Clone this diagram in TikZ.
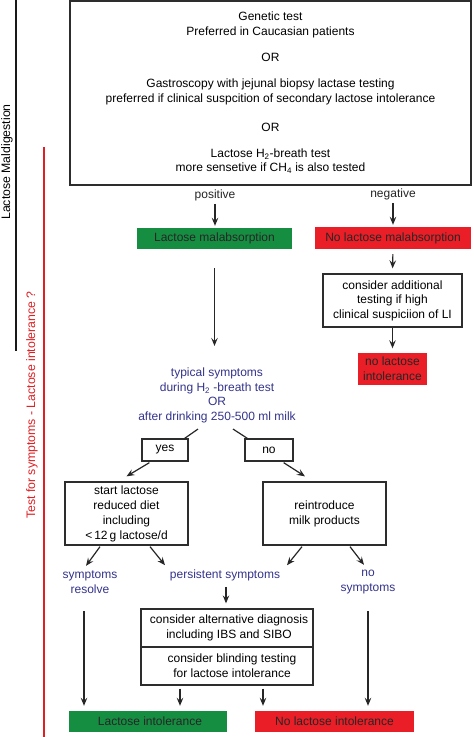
\documentclass[tikz,border=0pt]{standalone}
\usepackage{fontspec}
\setmainfont{Liberation Sans}
\usetikzlibrary{arrows.meta,calc}
\definecolor{boxgreen}{RGB}{22,142,66}
\definecolor{boxred}{RGB}{234,30,38}
\definecolor{linered}{RGB}{222,32,36}
\definecolor{symblue}{RGB}{52,52,140}
\definecolor{frame}{RGB}{45,45,45}
\tikzset{
  every node/.style={font=\fontsize{12}{15}\selectfont, inner sep=0pt, align=center},
  frbox/.style={draw=frame, line width=1.3pt, fill=white},
  greenbox/.style={fill=boxgreen, text=black!85},
  redbox/.style={fill=boxred, text=black!85},
  bluetxt/.style={text=symblue, inner sep=3pt},
  lbl/.style={text=black!85, inner sep=3pt},
  arr/.style={draw=black!85, line width=1.2pt, -{Stealth[length=8pt,width=6.5pt,inset=3pt]}},
  plain/.style={draw=black!85, line width=1.2pt},
}
\begin{document}
\begin{tikzpicture}[x=1pt,y=-1pt]
\useasboundingbox (0,0) rectangle (474,737);
\fill[white] (0,0) rectangle (474,737);

% side markers
\draw[line width=2pt, black!90] (16,0) -- (16,351);
\node[rotate=90, font=\fontsize{12.3}{15}\selectfont] (maldig) at (7,162) {Lactose Maldigestion};
\draw[line width=1.6pt, linered] (44,147) -- (44,737);
\node[rotate=90, text=linered, font=\fontsize{12.3}{15}\selectfont] (testsym) at (32,405) {Test for symptoms - Lactose intolerance ?};

% top box
\node[frbox, line width=1.5pt, minimum width=401pt, minimum height=184pt] (top) at (270.5,93)
 {Genetic test\\
  Preferred in Caucasian patients\\[11pt]
  OR\\[11pt]
  Gastroscopy with jejunal biopsy lactase testing\\
  preferred if clinical suspcition of secondary lactose intolerance\\[14pt]
  OR\\[11pt]
  Lactose H\textsubscript{2}-breath test\\[-1pt]
  more sensetive if CH\textsubscript{4} is also tested};

\node[lbl] (pos) at (215,195) {positive};
\node[lbl] (neg) at (393,194) {negative};

\node[greenbox, minimum width=155pt, minimum height=21pt] (malabs) at (214.5,238.5) {Lactose malabsorption};
\node[redbox, minimum width=156pt, minimum height=22pt] (nomal) at (393,238) {No lactose malabsorption};

\node[frbox, minimum width=139pt, minimum height=53pt] (addl) at (392.5,300.5)
 {consider additional\\[-0.5pt] testing if high\\[-0.5pt] clinical suspiciion of LI};
\node[redbox, minimum width=69pt, minimum height=32pt] (noli1) at (392.5,368.5)
 {no lactose\\ intolerance};

\node[bluetxt] (sym) at (217,395.5)
 {typical symptoms\\[-0.5pt] during H\textsubscript{2} -breath test\\[-0.5pt] OR\\[-0.5pt] after drinking 250-500 ml milk};

\node[frbox, minimum width=46pt, minimum height=22pt] (yes) at (165,450) {yes};
\node[frbox, minimum width=48pt, minimum height=22pt] (no) at (269,450) {no};

\node[frbox, minimum width=123pt, minimum height=63pt] (start) at (126.5,513.5)
 {start lactose\\ reduced diet\\ including\\ <\,12\,g lactose/d};
\node[frbox, minimum width=123pt, minimum height=63pt] (reint) at (324.5,513.5)
 {reintroduce\\ milk products};

\node[bluetxt] (resolve) at (90,582.5) {symptoms\\ resolve};
\node[bluetxt] (persist) at (225,575) {persistent symptoms};
\node[bluetxt] (nosym) at (368,582) {no\\ symptoms};

\node[frbox, minimum width=172pt, minimum height=38pt] (alt) at (227,628)
 {\hspace*{4pt}consider alternative diagnosis\\ \hspace*{4pt}including IBS and SIBO};
\node[frbox, minimum width=172pt, minimum height=38pt] (blind) at (227,666)
 {\hspace*{10pt}consider blinding testing\\ \hspace*{10pt}for lactose intolerance};

\node[greenbox, minimum width=158pt, minimum height=21pt] (li) at (147.5,721.5) {\hspace*{5pt}Lactose intolerance};
\node[redbox, minimum width=159pt, minimum height=21pt] (noli) at (334.5,721.5) {No lactose intolerance};

% connectors
\draw[arr, shorten >=2pt] (pos.south) -- (pos.south |- malabs.north);
\draw[arr, shorten >=2pt] (neg.south) -- (neg.south |- nomal.north);
\draw[arr, shorten <=5pt, shorten >=5pt] (nomal.south) -- (addl.north);
\draw[arr, shorten >=4pt] (addl.south) -- (noli1.north);
\draw[arr, shorten <=19pt, shorten >=19pt] (malabs.south) -- (malabs.south |- sym.north);

\draw[plain] ([xshift=-19pt,yshift=-3pt]sym.south) -- ([xshift=-4pt]yes.north east);
\draw[plain] ([xshift=16pt,yshift=-3pt]sym.south) -- ([xshift=3pt]no.north west);

\draw[arr] ([xshift=8pt,yshift=-1pt]yes.south west) -- ([yshift=5pt]start.north);
\draw[arr] ([xshift=-10pt,yshift=-1pt]no.south east) -- ([xshift=-19.5pt,yshift=5pt]reint.north);

\draw[arr] ([xshift=-26.5pt,yshift=-1pt]start.south) -- ([xshift=-4pt,yshift=2pt]resolve.north);
\draw[arr] ([xshift=23.5pt,yshift=-1pt]start.south) -- ([xshift=-60pt,yshift=1pt]persist.north);
\draw[arr] ([xshift=-22.5pt,yshift=-1pt]reint.south) -- ([xshift=62pt,yshift=1pt]persist.north);
\draw[arr] ([xshift=25.5pt,yshift=-1pt]reint.south) -- ([xshift=-4pt,yshift=2pt]nosym.north);

\draw[arr, shorten <=3pt, shorten >=5pt] ([xshift=1pt]persist.south) -- ([xshift=1pt]persist.south |- alt.north);
\draw[arr, shorten <=14pt, shorten >=5pt] ([xshift=-6pt]resolve.south) -- ([xshift=-6pt]resolve.south |- li.north);
\draw[arr, shorten <=14pt, shorten >=5pt] (nosym.south) -- (nosym.south |- noli.north);
\draw[arr, shorten <=3pt, shorten >=5pt] ([xshift=-47pt]blind.south) -- ([xshift=-47pt]blind.south |- li.north);
\draw[arr, shorten <=3pt, shorten >=5pt] ([xshift=36pt]blind.south) -- ([xshift=36pt]blind.south |- noli.north);
\end{tikzpicture}
\end{document}
